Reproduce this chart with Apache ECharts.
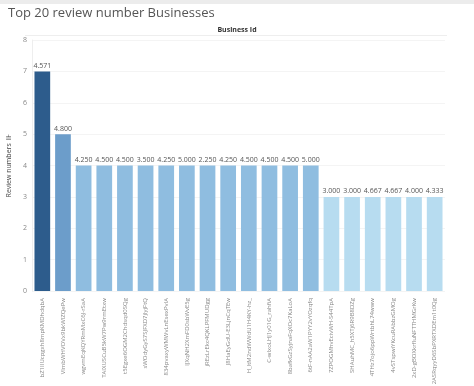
<!DOCTYPE html>
<html><head><meta charset="utf-8">
<script src="https://cdn.jsdelivr.net/npm/echarts@6/dist/echarts.min.js"></script>
<style>html,body{margin:0;padding:0;background:#fff}#c{width:474px;height:386px}</style>
</head><body><div id="c"></div>
<script>
const businessIds = [
  "bZ1IIUcpgxh8mpKMDhdqbA","VlmbWHVOVx9bkWlZQePw","wgvmEqKQYRmMxC6J-rSaA","TAIXUSCuB5kW7Pw9rmEtxw",
  "t5Egxe6OGM2Chdsqd0SQg","sWOdyGyS7SJFXD7jlyjFtQ","834pvaxyWMWvLnEsexPvIA","lJXqNH2XmFD0sbWvE5g",
  "jREzLrEkc4QKLPFMUDgg","J8HaEyGdU-E3LjnCqTEw","H_ltM2ndWWdU1H4KY-hz_","C-wlxoLHJ1y01G_rahfiA",
  "8bafkGzSyjnaFqXOc7KaLoA","6tF-nAA2aW1PYY2vYOzqfq","7ZPOGMhvEcivWH-S44TpA","SHAuhMC_h5XTj6R9B8DZg",
  "4THz7ojo6ppWrtbhL74www","4vSTspwiYKcuRAbbzGMOg","2xD-gBOXkrfluNFTTHMGrKw","2ASRqyyD6SbPXRTXDEm1t0Qg"
];
const reviewNumbers = [7,5,4,4,4,4,4,4,4,4,4,4,4,4,3,3,3,3,3,3];
const avgStars = [4.571,4.800,4.250,4.500,4.500,3.500,4.250,5.000,2.250,4.250,4.500,4.500,4.500,5.000,3.000,3.000,4.667,4.667,4.000,4.333];
const yTicks = [0,1,2,3,4,5,6,7,8];

const colorFor = v => v >= 7 ? '#2d5c8c' : v >= 5 ? '#6c9dca' : v >= 4 ? '#8fbde0' : '#b7dcf0';
const chart = echarts.init(document.getElementById('c'));
const FONT = '"Open Sans", Lato, sans-serif';
chart.setOption({
  animation: false,
  textStyle: {fontFamily: FONT},
  graphic: [
    {type:'rect', shape:{x:0,y:0,width:474,height:4}, style:{fill:'#ececec'}},
    {type:'text', left:8, top:7, style:{text:'Top 20 review number Businesses', fontSize:13, fill:'#555', fontFamily:FONT}},
    {type:'text', left:'center', top:26, style:{text:'Business Id', fontSize:7, fontWeight:'bold', fill:'#333', fontFamily:FONT}},
    {type:'line', shape:{x1:25,y1:35.5,x2:447,y2:35.5}, style:{stroke:'#eee', lineWidth:1}}
  ],
  grid: {left:32, right:29, top:40, bottom:95, containLabel:false, outerBoundsMode:'none'},
  xAxis: {
    type:'category', data: businessIds,
    axisLine:{show:false}, axisTick:{show:false},
    axisLabel:{rotate:90, fontSize:6, color:'#888', interval:0, margin:7, fontFamily:FONT}
  },
  yAxis: {
    type:'value', min:0, max:8, interval:1,
    name:'Review numbers  \u22AA', nameLocation:'middle', nameGap:16, nameRotate:90,
    nameTextStyle:{fontSize:7, color:'#444', fontFamily:FONT},
    axisLine:{show:true, lineStyle:{color:'#eee'}}, axisTick:{show:false},
    axisLabel:{fontSize:7, color:'#888', margin:5, formatter: v => yTicks.includes(v) ? String(v) : ''},
    splitLine:{show:true, lineStyle:{color:'#f4f4f4'}}
  },
  series: [{
    type:'bar', barWidth:'76%',
    data: reviewNumbers.map((v,i)=>({value:v, itemStyle:{color:colorFor(v)}, label:{formatter: avgStars[i].toFixed(3)}})),
    label:{show:true, position:'top', distance:2, fontSize:7, color:'#555', fontFamily:FONT}
  }]
});
</script></body></html>
